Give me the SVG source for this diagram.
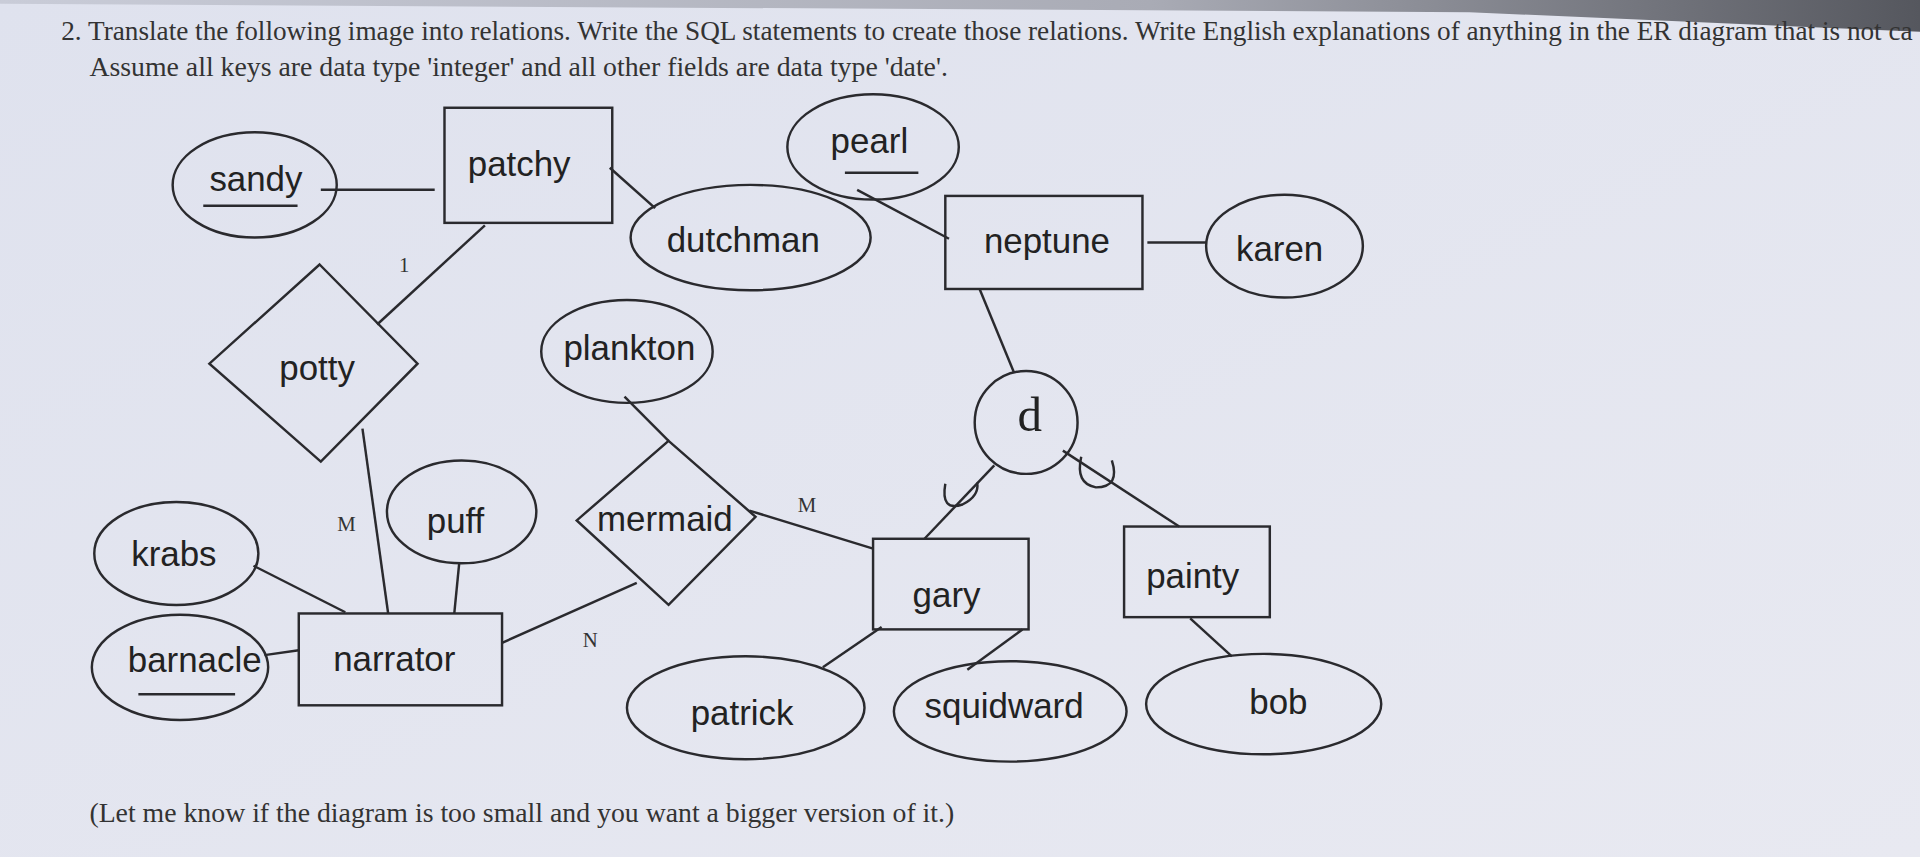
<svg xmlns="http://www.w3.org/2000/svg" width="1920" height="857" viewBox="0 0 1920 857">
<defs>
<linearGradient id="bg" x1="0" y1="0" x2="1" y2="1">
<stop offset="0" stop-color="#dfe2ee"/><stop offset="1" stop-color="#e8e9f1"/>
</linearGradient>
<linearGradient id="top" x1="0" y1="0" x2="1" y2="0">
<stop offset="0" stop-color="#c9ccd8"/><stop offset="0.6" stop-color="#a9abb5"/><stop offset="1" stop-color="#55575e"/>
</linearGradient>
</defs>
<style>
.s{fill:none;stroke:#2a2a2e;stroke-width:2}
.t{font-family:"Liberation Sans",Arial,sans-serif;font-size:28.5px;fill:#222;text-anchor:middle}
.h{font-family:"Liberation Serif","Times New Roman",serif;font-size:22.7px;fill:#333}
.c{font-family:"Liberation Serif","Times New Roman",serif;font-size:17px;fill:#333;text-anchor:middle}
</style>
<rect width="1920" height="857" fill="url(#bg)"/>
<g transform="scale(1.2245)">
<polygon points="0,0 1568,0 1568,26 1200,10 0,3" fill="url(#top)"/>
<text class="h" x="50" y="33" textLength="1512" lengthAdjust="spacingAndGlyphs">2. Translate the following image into relations. Write the SQL statements to create those relations. Write English explanations of anything in the ER diagram that is not ca</text>
<text class="h" x="73" y="62">Assume all keys are data type 'integer' and all other fields are data type 'date'.</text>
<text class="h" x="73" y="671">(Let me know if the diagram is too small and you want a bigger version of it.)</text>
<g id="connectors" class="s">
<line x1="262" y1="155" x2="355" y2="155"/>
<line x1="498" y1="137" x2="535" y2="170"/>
<line x1="700" y1="155" x2="775" y2="195"/>
<line x1="937" y1="198" x2="985" y2="198"/>
<line x1="396" y1="184" x2="308" y2="265"/>
<line x1="510" y1="324" x2="546" y2="360"/>
<line x1="800" y1="236" x2="828" y2="304"/>
<line x1="812" y1="380" x2="755" y2="440"/>
<path d="M772,395 Q768,418 786,412 Q800,405 798,394"/>
<line x1="868" y1="368" x2="963" y2="430"/>
<path d="M883,373 Q878,395 895,398 Q915,398 908,376"/>
<line x1="972" y1="505" x2="1006" y2="536"/>
<line x1="612" y1="417" x2="713" y2="448"/>
<line x1="520" y1="476" x2="410" y2="525"/>
<line x1="207" y1="462" x2="282" y2="500"/>
<line x1="216" y1="535" x2="244" y2="531"/>
<line x1="375" y1="460" x2="371" y2="501"/>
<line x1="296" y1="350" x2="317" y2="501"/>
<line x1="720" y1="512" x2="672" y2="545"/>
<line x1="835" y1="514" x2="790" y2="547"/>
</g>
<text class="c" x="330" y="222">1</text>
<text class="c" x="283" y="434">M</text>
<text class="c" x="659" y="418">M</text>
<text class="c" x="482" y="528">N</text>
<g id="sandy"><ellipse class="s" cx="208" cy="151" rx="67" ry="43"/><text class="t" x="209" y="156">sandy</text><line class="s" x1="166" y1="168" x2="243" y2="168"/></g>
<g id="patchy"><rect class="s" x="363" y="88" width="137" height="94"/><text class="t" x="424" y="144">patchy</text></g>
<g id="pearl"><ellipse class="s" cx="713" cy="120" rx="70" ry="43"/><text class="t" x="710" y="125">pearl</text><line class="s" x1="690" y1="141" x2="750" y2="141"/></g>
<g id="dutchman"><ellipse class="s" cx="613" cy="194" rx="98" ry="43"/><text class="t" x="607" y="206">dutchman</text></g>
<g id="neptune"><rect class="s" x="772" y="160" width="161" height="76"/><text class="t" x="855" y="207">neptune</text></g>
<g id="karen"><ellipse class="s" cx="1049" cy="201" rx="64" ry="42"/><text class="t" x="1045" y="213">karen</text></g>
<g id="potty"><polygon class="s" points="261,216 341,297 262,377 171,297"/><text class="t" x="259" y="310">potty</text></g>
<g id="plankton"><ellipse class="s" cx="512" cy="287" rx="70" ry="42"/><text class="t" x="514" y="294">plankton</text></g>
<g id="mermaid"><polygon class="s" points="546,360 617,422 546,494 471,425"/><text class="t" x="543" y="434">mermaid</text></g>
<g id="d"><circle class="s" cx="838" cy="345" r="42"/><text x="841" y="352" font-family="Liberation Serif,serif" font-size="40" text-anchor="middle" fill="#222">d</text></g>
<g id="gary"><rect class="s" x="713" y="440" width="127" height="74"/><text class="t" x="773" y="496">gary</text></g>
<g id="painty"><rect class="s" x="918" y="430" width="119" height="74"/><text class="t" x="974" y="480">painty</text></g>
<g id="bob"><ellipse class="s" cx="1032" cy="575" rx="96" ry="41"/><text class="t" x="1044" y="583">bob</text></g>
<g id="krabs"><ellipse class="s" cx="144" cy="452" rx="67" ry="42"/><text class="t" x="142" y="462">krabs</text></g>
<g id="barnacle"><ellipse class="s" cx="147" cy="545" rx="72" ry="43"/><text class="t" x="159" y="549">barnacle</text><line class="s" x1="113" y1="567" x2="192" y2="567"/></g>
<g id="puff"><ellipse class="s" cx="377" cy="418" rx="61" ry="42"/><text class="t" x="372" y="435">puff</text></g>
<g id="narrator"><rect class="s" x="244" y="501" width="166" height="75"/><text class="t" x="322" y="548">narrator</text></g>
<g id="patrick"><ellipse class="s" cx="609" cy="578" rx="97" ry="42"/><text class="t" x="606" y="592">patrick</text></g>
<g id="squidward"><ellipse class="s" cx="825" cy="581" rx="95" ry="41"/><text class="t" x="820" y="586">squidward</text></g>
</g>
</svg>
